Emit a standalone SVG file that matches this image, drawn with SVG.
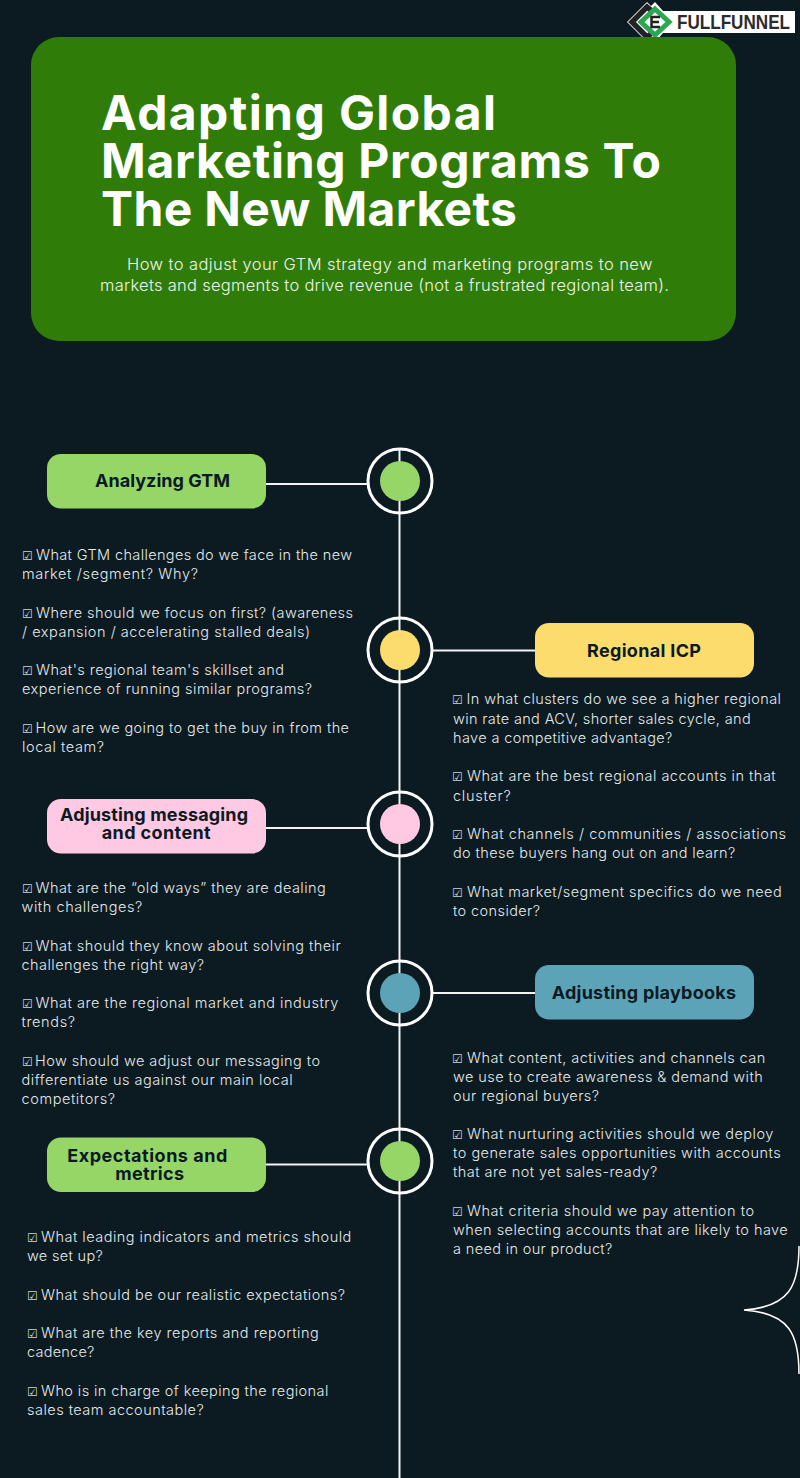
<svg xmlns="http://www.w3.org/2000/svg" width="800" height="1478" viewBox="0 0 800 1478">
<style>
text{font-family:"Inter","Liberation Sans",sans-serif}
.b{font-size:14.5px;font-weight:300;fill:#e4e9ea}
.c{font-size:12px;font-family:"DejaVu Sans",sans-serif;fill:#cfd6d8}
.h{font-size:18px;font-weight:700;fill:#0b1a21}
.t{font-size:48px;font-weight:700;fill:#fff}
.s{font-size:16.500px;font-weight:300;fill:#f0f5ec}
.l{stroke:#f2f4f4;stroke-width:2;fill:none}
.r{stroke:#fff;stroke-width:3;fill:none}
</style>
<rect width="800" height="1478" fill="#0c1b22"/>
<g id="logo">
<rect x="663" y="11" width="132" height="22" fill="#fff"/>
<path d="M647 2L627 22L647 42L651 38L655 42L673 22L655 2L651 6Z" fill="#fff"/>
<path d="M653 12L647 7L632 22L647 37L653 32" fill="none" stroke="#222" stroke-width="5.500"/>
<path d="M655 9L669 22L655 35L641 22Z" fill="#fff" stroke="#2aa84f" stroke-width="5"/>
<path d="M660 17H651.500V27H660M651.500 22H659" fill="none" stroke="#222" stroke-width="2.500"/>
<text x="677" y="29" font-size="20" font-weight="700" fill="#2b2b2b" style="font-family:'Liberation Sans',sans-serif" textLength="113" lengthAdjust="spacingAndGlyphs">FULLFUNNEL</text>
</g>
<g id="header">
<rect x="31" y="37" width="705" height="304" rx="28" fill="#2f7d08"/>
<text class="t" x="101" y="130" textLength="395">Adapting Global</text>
<text class="t" x="101" y="178" textLength="560">Marketing Programs To</text>
<text class="t" x="101" y="226" textLength="416">The New Markets</text>
<text class="s" x="127" y="270" textLength="525.500">How to adjust your GTM strategy and marketing programs to new</text>
<text class="s" x="100" y="291" textLength="569">markets and segments to drive revenue (not a frustrated regional team).</text>
</g>
<g id="connectors">
<path class="l" d="M399.500 448V1478"/>
<path class="l" d="M265 484H368M432 650.500H535M265 828H368M432 993H535M265 1164.500H368"/>
<path d="M799 1246C799 1285 790 1307 744 1310C790 1313 799 1335 799 1374" stroke="#fff" stroke-width="1.500" fill="none"/>
</g>
<g id="node-analyzing">
<rect x="47" y="454" width="219" height="54.500" rx="14" fill="#95d667"/>
<text class="h" x="95" y="487" textLength="135">Analyzing GTM</text>
<circle class="r" cx="400" cy="481" r="32"/><circle cx="400" cy="481" r="20" fill="#95d667"/>
</g>
<g id="list-analyzing">
<text class="b" y="560"><tspan class="c" x="21.500">☑</tspan><tspan x="36" textLength="316">What GTM challenges do we face in the new</tspan></text>
<text class="b" x="22" y="579" textLength="176">market /segment? Why?</text>
<text class="b" y="618"><tspan class="c" x="21.500">☑</tspan><tspan x="36" textLength="317">Where should we focus on first? (awareness</tspan></text>
<text class="b" x="22" y="637" textLength="288">/ expansion / accelerating stalled deals)</text>
<text class="b" y="675"><tspan class="c" x="21.500">☑</tspan><tspan x="36" textLength="248">What's regional team's skillset and</tspan></text>
<text class="b" x="22" y="694" textLength="290">experience of running similar programs?</text>
<text class="b" y="733"><tspan class="c" x="21.500">☑</tspan><tspan x="35.500" textLength="313.500">How are we going to get the buy in from the</tspan></text>
<text class="b" x="22" y="752" textLength="82">local team?</text>
</g>
<g id="node-icp">
<rect x="535" y="623" width="219" height="54.500" rx="14" fill="#fcdc6d"/>
<text class="h" x="587" y="657" textLength="114">Regional ICP</text>
<circle class="r" cx="400" cy="650" r="32"/><circle cx="400" cy="650" r="20" fill="#fcdc6d"/>
</g>
<g id="list-icp">
<text class="b" y="704"><tspan class="c" x="452">☑</tspan><tspan x="466.500" textLength="314.500">In what clusters do we see a higher regional</tspan></text>
<text class="b" x="453" y="724" textLength="297.700">win rate and ACV, shorter sales cycle, and</text>
<text class="b" x="453" y="743" textLength="219.300">have a competitive advantage?</text>
<text class="b" y="781"><tspan class="c" x="452">☑</tspan><tspan x="467" textLength="308.700">What are the best regional accounts in that</tspan></text>
<text class="b" x="453" y="801" textLength="57.700">cluster?</text>
<text class="b" y="839"><tspan class="c" x="452">☑</tspan><tspan x="467" textLength="319">What channels / communities / associations</tspan></text>
<text class="b" x="453" y="858" textLength="282.300">do these buyers hang out on and learn?</text>
<text class="b" y="897"><tspan class="c" x="452">☑</tspan><tspan x="467" textLength="314.700">What market/segment specifics do we need</tspan></text>
<text class="b" x="453" y="916" textLength="87">to consider?</text>
</g>
<g id="node-messaging">
<rect x="47" y="799" width="219" height="54.500" rx="14" fill="#ffc8e3"/>
<text class="h" x="60" y="821" textLength="188">Adjusting messaging</text>
<text class="h" x="101.700" y="839" textLength="109">and content</text>
<circle class="r" cx="400" cy="824" r="32"/><circle cx="400" cy="824" r="20" fill="#ffc8e3"/>
</g>
<g id="list-messaging">
<text class="b" y="893"><tspan class="c" x="21.500">☑</tspan><tspan x="35.500" textLength="290.200">What are the “old ways” they are dealing</tspan></text>
<text class="b" x="21.500" y="912" textLength="120.800">with challenges?</text>
<text class="b" y="951"><tspan class="c" x="21.500">☑</tspan><tspan x="35.500" textLength="305.200">What should they know about solving their</tspan></text>
<text class="b" x="21.500" y="970" textLength="182.500">challenges the right way?</text>
<text class="b" y="1008"><tspan class="c" x="21.500">☑</tspan><tspan x="35.500" textLength="302.800">What are the regional market and industry</tspan></text>
<text class="b" x="21.500" y="1027" textLength="53.500">trends?</text>
<text class="b" y="1066"><tspan class="c" x="21.500">☑</tspan><tspan x="35" textLength="285">How should we adjust our messaging to</tspan></text>
<text class="b" x="21.500" y="1085" textLength="271.200">differentiate us against our main local</text>
<text class="b" x="21.500" y="1104" textLength="93.500">competitors?</text>
</g>
<g id="node-playbooks">
<rect x="535" y="965" width="219" height="54.500" rx="14" fill="#5da3b8"/>
<text class="h" x="551.700" y="999" textLength="184.300">Adjusting playbooks</text>
<circle class="r" cx="400" cy="993" r="32"/><circle cx="400" cy="993" r="20" fill="#5da3b8"/>
</g>
<g id="list-playbooks">
<text class="b" y="1063"><tspan class="c" x="452">☑</tspan><tspan x="467" textLength="298.300">What content, activities and channels can</tspan></text>
<text class="b" x="453" y="1082" textLength="309.700">we use to create awareness &amp; demand with</text>
<text class="b" x="453" y="1101" textLength="146">our regional buyers?</text>
<text class="b" y="1139"><tspan class="c" x="452">☑</tspan><tspan x="467" textLength="306.300">What nurturing activities should we deploy</tspan></text>
<text class="b" x="453" y="1158" textLength="327.700">to generate sales opportunities with accounts</text>
<text class="b" x="453" y="1177" textLength="204.300">that are not yet sales-ready?</text>
<text class="b" y="1216"><tspan class="c" x="452">☑</tspan><tspan x="467" textLength="287">What criteria should we pay attention to</tspan></text>
<text class="b" x="453" y="1235" textLength="334.700">when selecting accounts that are likely to have</text>
<text class="b" x="453" y="1254" textLength="159.300">a need in our product?</text>
</g>
<g id="node-expectations">
<rect x="47" y="1137.500" width="219" height="54.500" rx="14" fill="#95d667"/>
<text class="h" x="67.300" y="1162" textLength="160">Expectations and</text>
<text class="h" x="115.300" y="1180" textLength="68.700">metrics</text>
<circle class="r" cx="400" cy="1161" r="32"/><circle cx="400" cy="1161" r="20" fill="#95d667"/>
</g>
<g id="list-expectations">
<text class="b" y="1242"><tspan class="c" x="26.500">☑</tspan><tspan x="41" textLength="310.300">What leading indicators and metrics should</tspan></text>
<text class="b" x="27" y="1261" textLength="75.700">we set up?</text>
<text class="b" y="1300"><tspan class="c" x="26.500">☑</tspan><tspan x="41" textLength="304">What should be our realistic expectations?</tspan></text>
<text class="b" y="1338"><tspan class="c" x="26.500">☑</tspan><tspan x="41" textLength="277.700">What are the key reports and reporting</tspan></text>
<text class="b" x="27" y="1357" textLength="67.300">cadence?</text>
<text class="b" y="1396"><tspan class="c" x="26.500">☑</tspan><tspan x="41" textLength="287.300">Who is in charge of keeping the regional</tspan></text>
<text class="b" x="27" y="1415" textLength="176.700">sales team accountable?</text>
</g>
</svg>
